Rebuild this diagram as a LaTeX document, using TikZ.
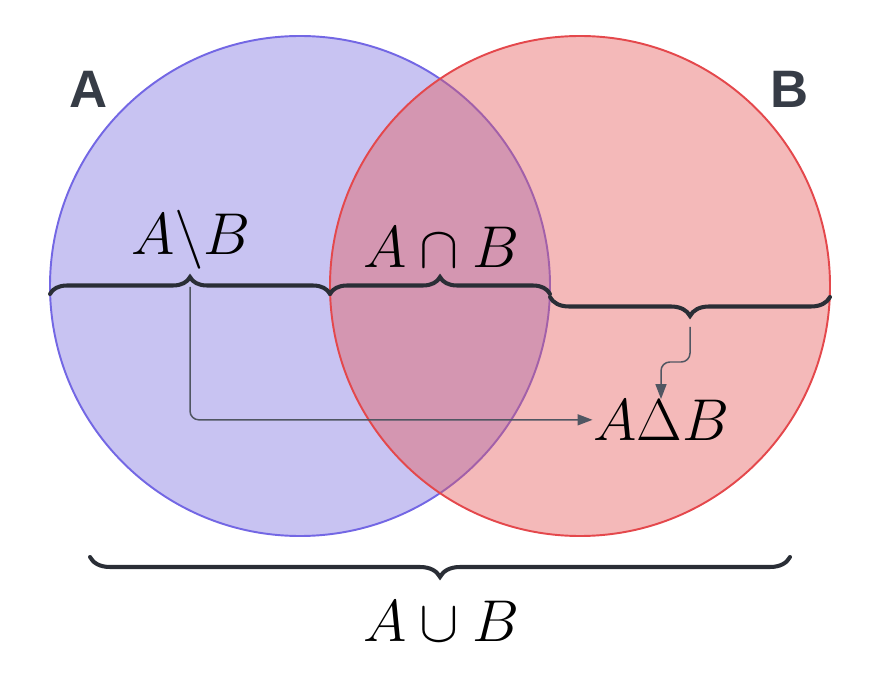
\documentclass[tikz,border=0pt]{standalone}
\usepackage{fontspec}
\newfontfamily\namefont{Liberation Sans}
\usetikzlibrary{arrows.meta,decorations.pathreplacing}
\definecolor{setAfill}{RGB}{200,195,242}
\definecolor{setAline}{RGB}{115,103,228}
\definecolor{setBfill}{RGB}{229,88,88}
\definecolor{setBline}{RGB}{228,72,76}
\definecolor{namegray}{RGB}{54,60,70}
\definecolor{bracegray}{RGB}{42,46,54}
\definecolor{conngray}{RGB}{80,86,98}

\begin{document}
\begin{tikzpicture}[x=0.02cm, y=-0.02cm,
		setlabel/.style={inner sep=0pt, font=\huge, scale=1.62},
		namelabel/.style={inner sep=0pt, text=namegray, font=\namefont\bfseries\fontsize{30}{36}\selectfont},
		setbrace/.style={draw=bracegray, line width=2.3pt, line cap=round, decorate, decoration={brace, amplitude=#1}},
		conn/.style={draw=conngray, line width=0.85pt, rounded corners=5pt, -{Triangle[length=0.3cm, width=0.22cm]}}]
		\useasboundingbox (0,0) rectangle (878,685);
		% the two sets
		\filldraw[fill=setAfill, draw=setAline, line width=1.1pt] (300,286) circle (250);
		\fill[setBfill, fill opacity=0.42] (580,286) circle (250);
		\draw[setBline, line width=1.1pt] (580,286) circle (250);
		
		\node[namelabel] (nameA) at (89,89) {A};
		\node[namelabel] (nameB) at (790,89) {B};
		
		\node[setlabel, anchor=base] (diffAB) at (191,255) {$A\backslash B$};
		\node[setlabel, anchor=base] (capAB) at (441,268) {$A\cap B$};
		\node[setlabel, anchor=base] (symAB) at (661,440) {$A\Delta B$};
		\node[setlabel, anchor=base] (cupAB) at (441,641) {$A\cup B$};
		
		% braces
		\draw[setbrace=0.34cm] (50,294) -- (330,294);
		\draw[setbrace=0.34cm] (330,294) -- (550,294);
		\draw[setbrace=0.38cm] (830,297) -- (550,297);
		\draw[setbrace=0.40cm] (790,557) -- (90,557);
		
		\coordinate (tipDiff) at (190,287);
		\coordinate (tipRest) at (690,327);
		\draw[conn] (tipDiff) |- (symAB.west);
		\draw[conn] (tipRest) -- ++(0,35) -| (symAB.north);
	\end{tikzpicture}
\end{document}
